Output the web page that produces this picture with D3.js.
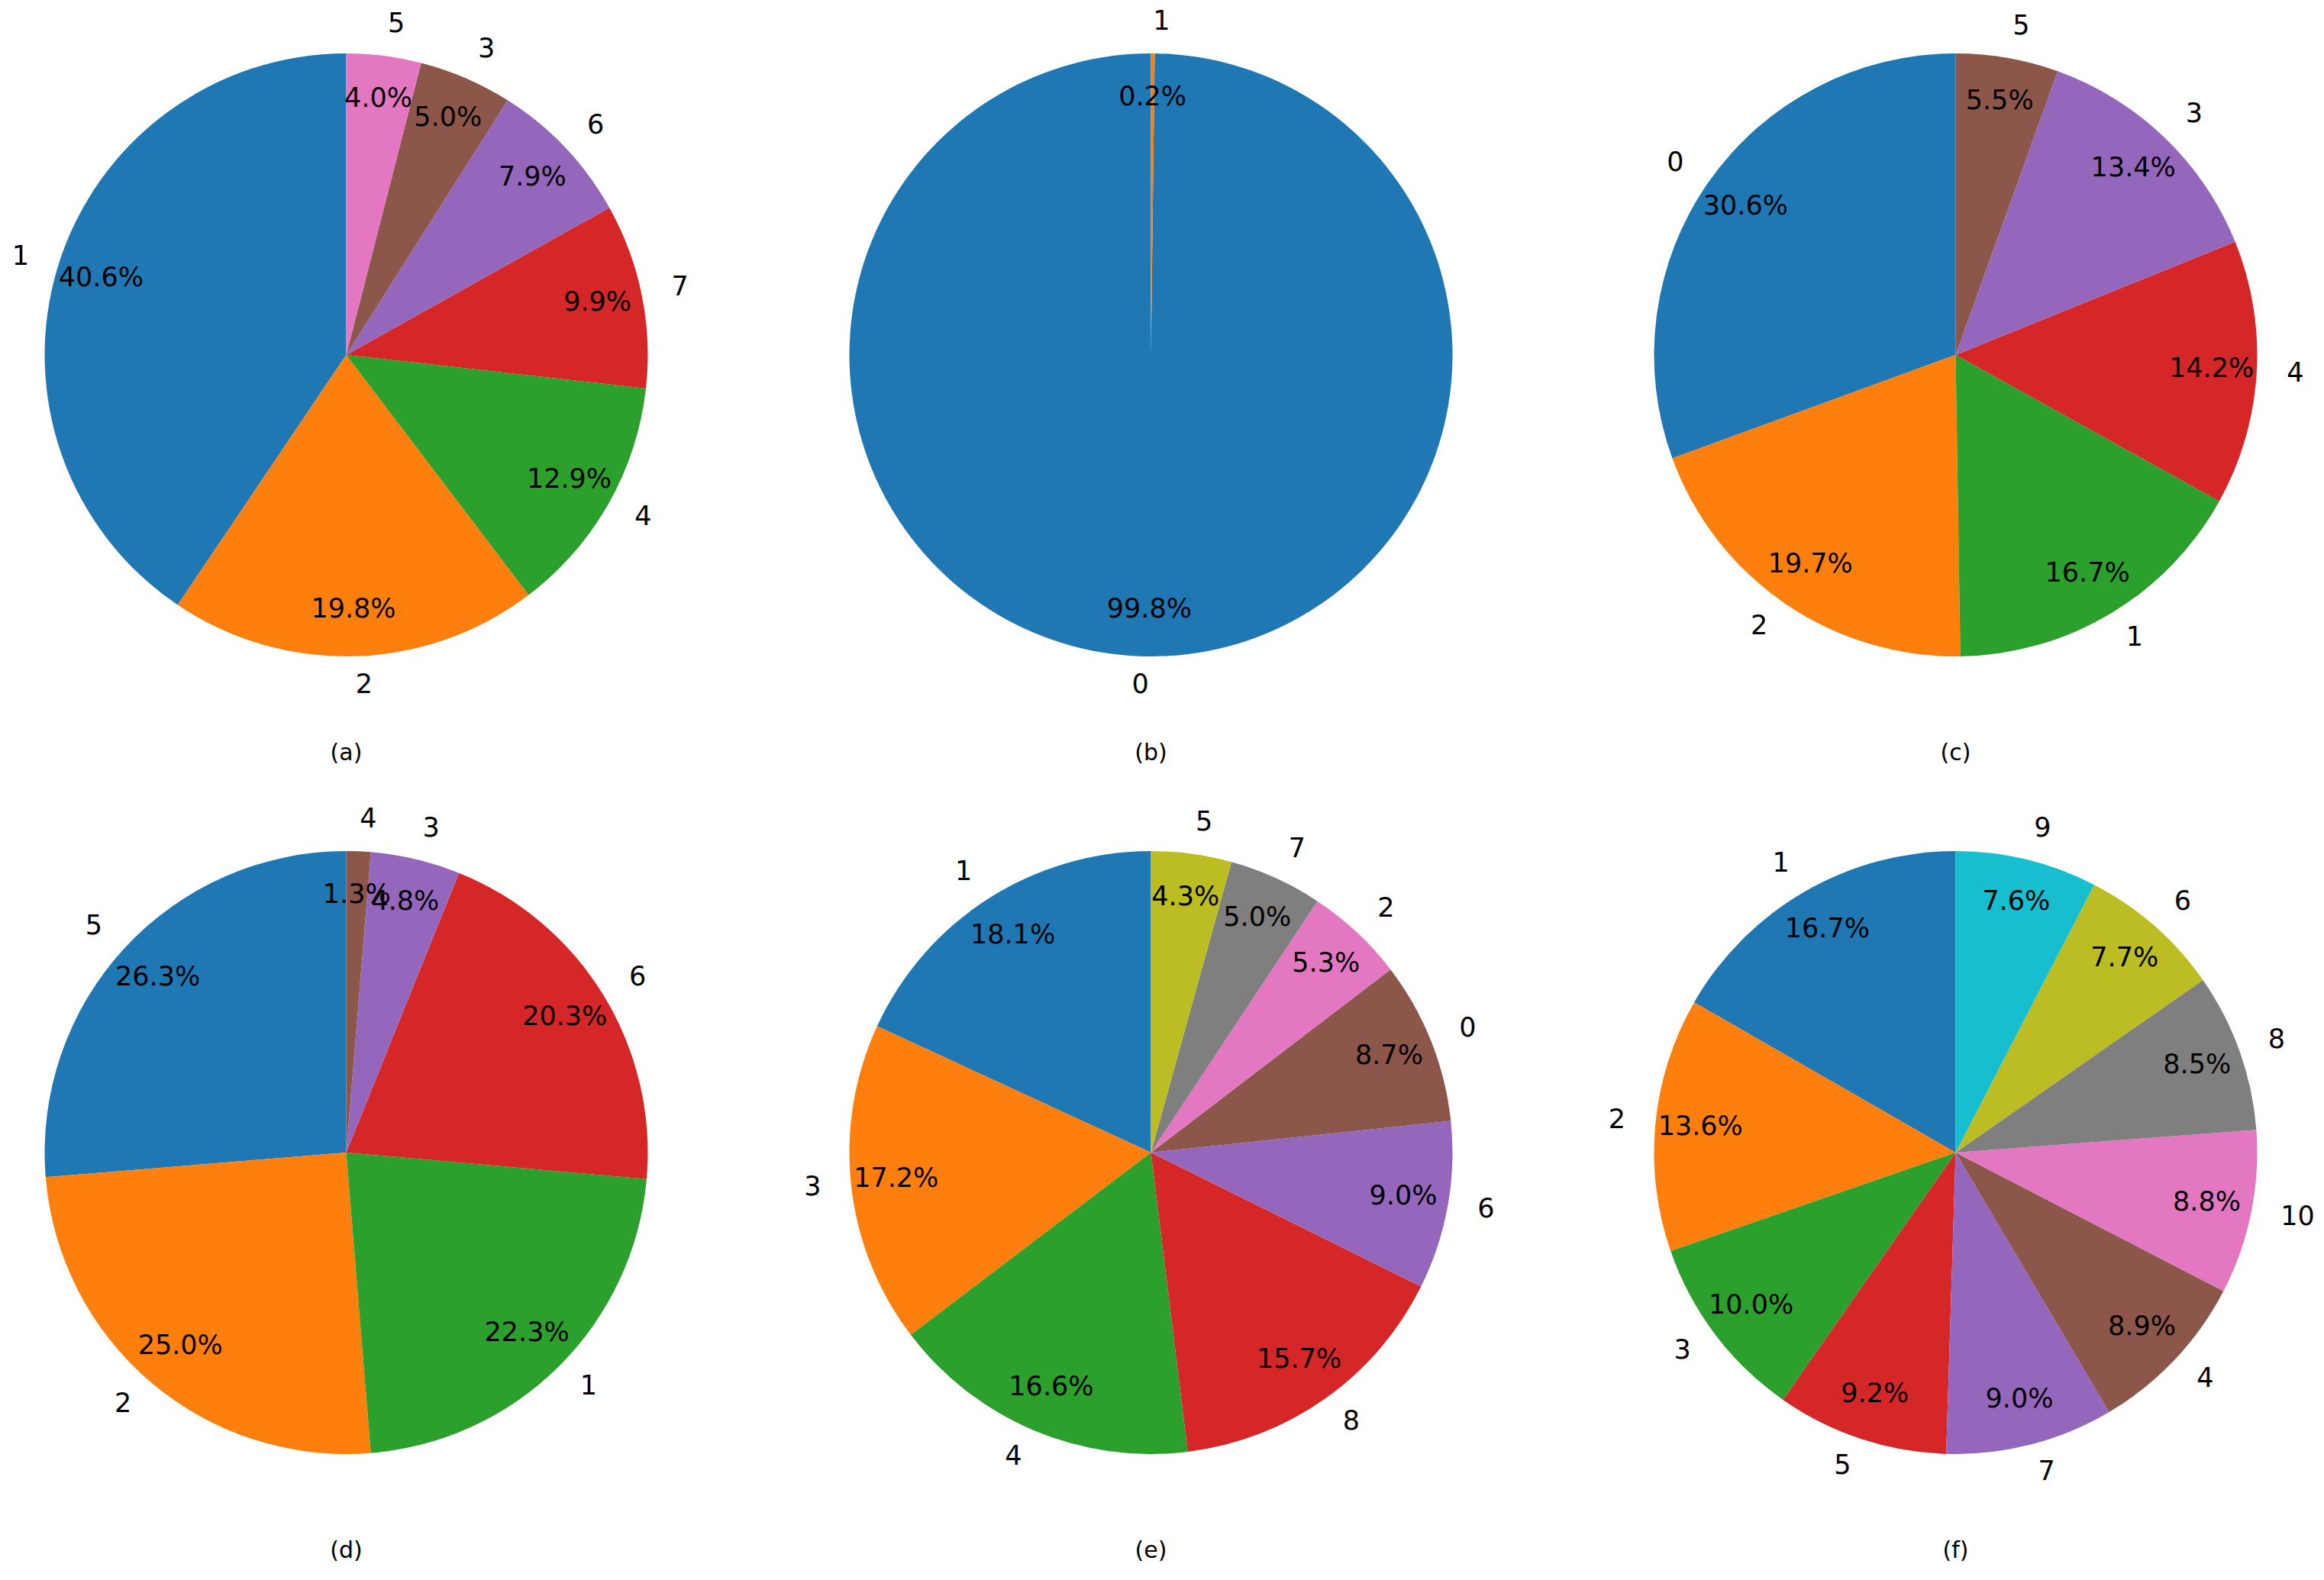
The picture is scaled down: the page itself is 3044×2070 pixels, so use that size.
<!DOCTYPE html>
<html>
<head>
<meta charset="utf-8">
<script src="https://cdn.jsdelivr.net/npm/d3@7"></script>
<style>
  body { margin: 0; background: #fff; }
  text { font-family: "DejaVu Sans", sans-serif; fill: #000; }
</style>
</head>
<body>
<svg id="chart"></svg>
<script>
// category labels and percentages (wedge order as drawn)
const labelsA = ['1', '2', '4', '7', '6', '3', '5'];
const valuesA = [40.6, 19.8, 12.9, 9.9, 7.9, 5.0, 4.0];

const labelsB = ['0', '1'];
const valuesB = [99.8, 0.2];

const labelsC = ['0', '2', '1', '4', '3', '5'];
const valuesC = [30.6, 19.7, 16.7, 14.2, 13.4, 5.5];

const labelsD = ['5', '2', '1', '6', '3', '4'];
const valuesD = [26.3, 25.0, 22.3, 20.3, 4.8, 1.3];

const labelsE = ['1', '3', '4', '8', '6', '0', '2', '7', '5'];
const valuesE = [18.1, 17.2, 16.6, 15.7, 9.0, 8.7, 5.3, 5.0, 4.3];

const labelsF = ['1', '2', '3', '5', '7', '4', '10', '8', '6', '9'];
const valuesF = [16.7, 13.6, 10.0, 9.2, 9.0, 8.9, 8.8, 8.5, 7.7, 7.6];

const captions = ['(a)', '(b)', '(c)', '(d)', '(e)', '(f)'];

const panels = [
    [labelsA, valuesA], [labelsB, valuesB], [labelsC, valuesC],
    [labelsD, valuesD], [labelsE, valuesE], [labelsF, valuesF]
].map(([labels, values], i) => ({
    caption: captions[i],
    data: labels.map((l, j) => ({ label: l, value: values[j] }))
}));

const config = {
    width: 3044,
    height: 2070,
    colCenters: [453.5, 1507.5, 2561.5],
    rowCenters: [465, 1510],
    radius: 395,
    pctDistance: 0.85,
    labelDistance: 1.1,
    captionOffset: 531
};

const svg = d3.select('#chart')
    .attr('width', config.width)
    .attr('height', config.height);

// matplotlib style: start at the top, go counter-clockwise
const pie = d3.pie()
    .sort(null)
    .value(d => d.value)
    .startAngle(0)
    .endAngle(-2 * Math.PI);

const arc = d3.arc().innerRadius(0).outerRadius(config.radius);
const pctArc = d3.arc()
    .innerRadius(config.radius * config.pctDistance)
    .outerRadius(config.radius * config.pctDistance);
const labelArc = d3.arc()
    .innerRadius(config.radius * config.labelDistance)
    .outerRadius(config.radius * config.labelDistance);

panels.forEach((p, i) => {
    const cx = config.colCenters[i % 3];
    const cy = config.rowCenters[Math.floor(i / 3)];
    const g = svg.append('g')
        .attr('transform', `translate(${cx},${cy})`);

    const arcs = pie(p.data);

    g.selectAll('.slice')
        .data(arcs)
        .join('path')
        .attr('class', 'slice')
        .attr('d', arc)
        .attr('fill', (d, j) => d3.schemeCategory10[j % 10]);

    // percentage labels inside
    g.selectAll('.pct')
        .data(arcs)
        .join('text')
        .attr('class', 'pct')
        .attr('transform', d => `translate(${pctArc.centroid(d)})`)
        .attr('text-anchor', 'middle')
        .attr('dominant-baseline', 'central')
        .attr('dy', '-0.1em')
        .style('font-size', '35px')
        .text(d => d.data.value.toFixed(1) + '%');

    // category labels outside
    g.selectAll('.cat')
        .data(arcs)
        .join('text')
        .attr('class', 'cat')
        .attr('transform', d => `translate(${labelArc.centroid(d)})`)
        .attr('text-anchor', d => labelArc.centroid(d)[0] > 0 ? 'start' : 'end')
        .attr('dominant-baseline', 'central')
        .attr('dy', '-0.1em')
        .style('font-size', '35px')
        .text(d => d.data.label);

    g.append('text')
        .attr('class', 'caption')
        .attr('x', 0)
        .attr('y', config.captionOffset)
        .attr('text-anchor', 'middle')
        .style('font-size', '30px')
        .text(p.caption);
});
</script>
</body>
</html>
